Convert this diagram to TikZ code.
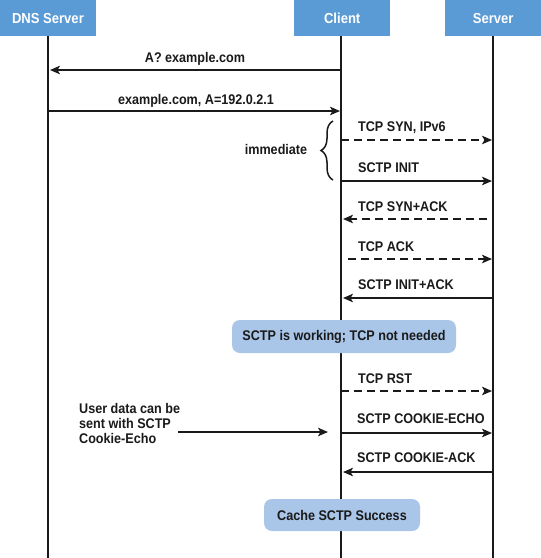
\documentclass[tikz,border=0pt]{standalone}
\usepackage{fontspec}
\setmainfont{Liberation Sans}[FakeStretch=0.9]
\usetikzlibrary{arrows.meta,decorations.pathreplacing}
\definecolor{hdr}{HTML}{5B9BD5}
\definecolor{notec}{HTML}{A9C5E8}
\definecolor{ink}{HTML}{1A1A1A}
\begin{document}
\begin{tikzpicture}[x=1pt,y=-1pt,
  hdrbox/.style={fill=hdr,text=white,font=\bfseries\fontsize{14.5}{16}\selectfont,inner sep=0pt,minimum height=36pt,anchor=north west},
  life/.style={draw=ink,line width=2pt},
  msg/.style={draw=ink,line width=1.6pt,-{Stealth[length=10pt,width=8.5pt,inset=2.5pt]}},
  dsh/.style={msg,dash pattern=on 8pt off 5pt},
  lbl/.style={font=\bfseries\fontsize{14}{15}\selectfont,text=ink,inner sep=0pt},
  notebox/.style={fill=notec,rounded corners=8pt,font=\bfseries\fontsize{14}{15}\selectfont,text=ink,inner sep=0pt}]
\useasboundingbox (0,0) rectangle (541,558);
\fill[white] (0,0) rectangle (541,558);
% headers
\node[hdrbox,minimum width=95.5pt] (dns) at (0,0) {DNS Server};
\node[hdrbox,minimum width=96pt] (cli) at (294,0) {Client};
\node[hdrbox,minimum width=96pt] (srv) at (445,0) {Server};
% lifelines
\coordinate (dnsE) at (48,558);
\coordinate (cliE) at (341,558);
\coordinate (srvE) at (493,558);
\draw[life] (dns.south -| dnsE) -- (dnsE);
\draw[life] (cli.south -| cliE) -- (cliE);
\draw[life] (srv.south -| srvE) -- (srvE);
% DNS exchange
\coordinate (c1) at (341,70); \coordinate (d1) at (50,70);
\draw[msg] (c1) -- (d1);
\node[lbl,anchor=base] (l1) at (195,62) {A? example.com};
\coordinate (d2) at (48,111); \coordinate (c2) at (340,111);
\draw[msg] (d2) -- (c2);
\node[lbl,anchor=base] (l2) at (196,104) {example.com, A=192.0.2.1};
% client-server
\coordinate (c3) at (341,140); \coordinate (s3) at (492,140);
\draw[dsh] (c3) -- (s3);
\node[lbl,anchor=base west] (l3) at (358,131) {TCP SYN, IPv6};
\coordinate (c4) at (341,181); \coordinate (s4) at (492,181);
\draw[msg] (c4) -- (s4);
\node[lbl,anchor=base west] (l4) at (358,172) {SCTP INIT};
\coordinate (s5) at (487,219); \coordinate (c5) at (343,219);
\draw[dsh] (s5) -- (c5);
\node[lbl,anchor=base west] (l5) at (358,211) {TCP SYN+ACK};
\coordinate (c6) at (348,259); \coordinate (s6) at (492,259);
\draw[dsh] (c6) -- (s6);
\node[lbl,anchor=base west] (l6) at (358,251) {TCP ACK};
\coordinate (s7) at (493,298); \coordinate (c7) at (343,298);
\draw[msg] (s7) -- (c7);
\node[lbl,anchor=base west] (l7) at (358,289) {SCTP INIT+ACK};
% brace
\coordinate (bA) at (333,180); \coordinate (bB) at (333,121);
\draw[ink,line width=1.5pt,decorate,decoration={brace,amplitude=12pt}] (bA) -- (bB);
\node[lbl,anchor=base] (imm) at (276,154) {immediate};
% note 1
\node[notebox,minimum width=224pt,minimum height=33pt] (n1) at (344,336.5) {SCTP is working; TCP not needed};
% later
\coordinate (c8) at (341,391); \coordinate (s8) at (492,391);
\draw[dsh] (c8) -- (s8);
\node[lbl,anchor=base west] (l8) at (358,383) {TCP RST};
\coordinate (c9) at (341,433); \coordinate (s9) at (492,433);
\draw[msg] (c9) -- (s9);
\node[lbl,anchor=base west] (l9) at (357,423) {SCTP COOKIE-ECHO};
\coordinate (s10) at (493,472); \coordinate (c10) at (343,472);
\draw[msg] (s10) -- (c10);
\node[lbl,anchor=base west] (l10) at (357,462) {SCTP COOKIE-ACK};
% user data
\node[lbl,anchor=west,align=left] (ud) at (79,423) {User data can be\\sent with SCTP\\Cookie-Echo};
\coordinate (uA) at (178,432); \coordinate (uB) at (328,432);
\draw[msg] (uA) -- (uB);
% note 2
\node[notebox,minimum width=156pt,minimum height=32pt] (n2) at (342,515) {Cache SCTP Success};
\end{tikzpicture}
\end{document}
